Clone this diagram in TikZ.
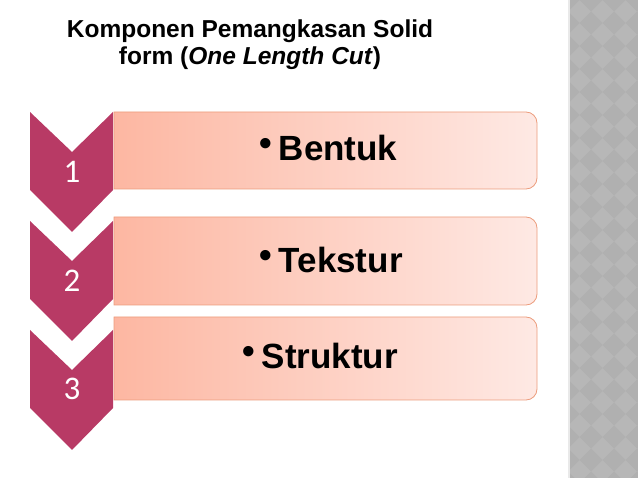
\documentclass[tikz,border=0pt]{standalone}
\usepackage{fontspec}
\setmainfont{Liberation Sans}
\newfontfamily\numfont{Carlito}
\definecolor{chevron}{HTML}{B83A65}
\definecolor{boxleft}{HTML}{FDB7A2}
\definecolor{boxright}{HTML}{FEE9E4}
\definecolor{boxline}{HTML}{EC9C7C}
\definecolor{bandgray}{HTML}{B7B7B7}
\definecolor{banddark}{HTML}{B0B0B0}
\newcommand{\bul}{\raisebox{5pt}{\fontsize{36}{36}\selectfont •}\hspace{7pt}}

\begin{document}
\begin{tikzpicture}[x=1pt,y=-1pt,
    chev/.style={fill=chevron},
    panel/.style={left color=boxleft,right color=boxright,draw=boxline,line width=0.8pt},
    num/.style={anchor=base,inner sep=0pt,text=white,font=\numfont\fontsize{33}{33}\selectfont},
    item/.style={anchor=base west,inner sep=0pt,font=\bfseries\fontsize{35}{35}\selectfont}]
    \useasboundingbox (0,0) rectangle (638,478);
    % side band
    \fill[bandgray] (568,0) rectangle (638,478);
    \begin{scope}
        \clip (568,0) rectangle (638,478);
        \foreach \i in {0,...,3}
            \foreach \j in {0,...,21}
                \fill[banddark] (568+23*\i,23*\j) ++(0,-11.5) -- ++(11.5,11.5) -- ++(-11.5,11.5) -- ++(-11.5,-11.5) -- cycle;
    \end{scope}
    \fill[white!70!bandgray] (568,0) rectangle (570,478);
    % title
    \node[align=center,inner sep=0pt,font=\bfseries\fontsize{24.5}{27}\selectfont] (title) at (250,45)
        {Komponen Pemangkasan Solid\\form (\textit{One Length Cut})};
    % chevrons
    \fill[chev] (30,112) -- (72,152) -- (113,112) -- (113,190) -- (72,232) -- (30,190) -- cycle;
    \fill[chev] (30,221) -- (72,261) -- (113,221) -- (113,299) -- (72,341) -- (30,299) -- cycle;
    \fill[chev] (30,330) -- (72,370) -- (113,330) -- (113,408) -- (72,450) -- (30,408) -- cycle;
    \node[num] (n1) at (72,183) {1};
    \node[num] (n2) at (72,292) {2};
    \node[num] (n3) at (72,400) {3};
    % panels
    \shadedraw[panel] (114,112) -- (300,112) [rounded corners=11pt] -- (537,112) -- (537,189) -- (300,189) [sharp corners] -- (114,189) -- cycle;
    \shadedraw[panel] (114,217) -- (300,217) [rounded corners=11pt] -- (537,217) -- (537,305) -- (300,305) [sharp corners] -- (114,305) -- cycle;
    \shadedraw[panel] (114,317) -- (300,317) [rounded corners=11pt] -- (537,317) -- (537,400) -- (300,400) [sharp corners] -- (114,400) -- cycle;
    \node[item] (bentuk) at (259,161) {\bul Bentuk};
    \node[item] (tekstur) at (259,273) {\bul Tekstur};
    \node[item] (struktur) at (242,369) {\bul Struktur};
\end{tikzpicture}
\end{document}
